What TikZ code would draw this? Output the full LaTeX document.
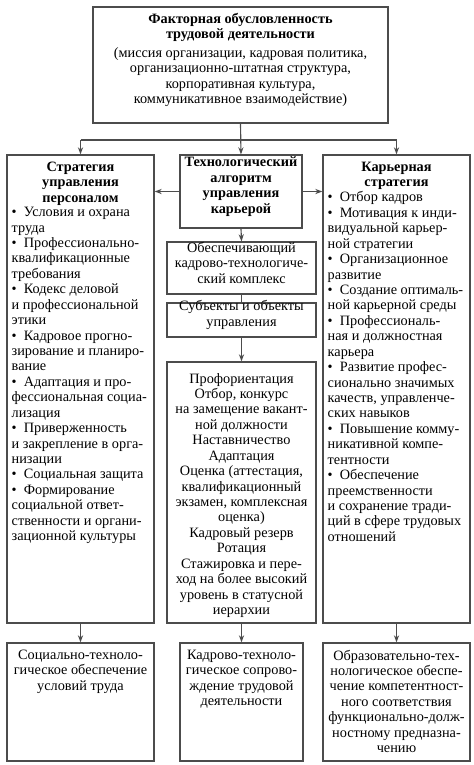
\documentclass[tikz,border=0pt]{standalone}
\usepackage{fontspec}
\setmainfont{Liberation Serif}
\usetikzlibrary{fit,arrows.meta}

\tikzset{
	box/.style={draw=black!70, line width=0.8pt, inner sep=0pt, align=center,
		font=\fontsize{10}{10.8}\selectfont},
	txt/.style={inner sep=0pt, font=\fontsize{10}{10.8}\selectfont},
	hd/.style={inner sep=0pt, align=center, font=\fontsize{10}{10.8}\selectfont\bfseries},
	arr/.style={-{Stealth[length=5pt,width=3.6pt]}, draw=black!70, line width=0.8pt},
	ln/.style={draw=black!70, line width=0.8pt},
}
\newcommand{\itm}{\textbullet\enspace}

\begin{document}
\begin{tikzpicture}[x=0.7pt,y=-0.7pt]
	\useasboundingbox (0,0) rectangle (474,765);

	% top
	\node[box, fit={(93,7) (388,123)}] (top) {\textbf{Факторная обусловленность}\\
		\textbf{трудовой деятельности}\\[2pt]
		(миссия организации, кадровая политика,\\
		организационно-штатная структура,\\
		корпоративная культура,\\
		коммуникативное взаимодействие)};
	\coordinate (bus) at (241,140);

	% three columns
	\node[box, fit={(7,155) (154,623)}] (lbox) {};
	\node[box, fit={(180,155) (302,228)}, font=\fontsize{10}{10.8}\selectfont\bfseries] (tech)
		{Технологический\\алгоритм\\управления\\карьерой};
	\node[box, fit={(323,155) (470,623)}] (rbox) {};

	\node[box, fit={(167,242) (316,294)}] (mk) {Обеспечивающий\\кадрово-технологиче-\\ский комплекс};
	\node[box, fit={(167,303) (316,337)}] (msub) {Субъекты и объекты\\управления};
	\node[box, fit={(167,362) (316,623)}] (mlist) {};

	% results
	\node[box, fit={(7,643) (154,761)}] (lres) {};
	\node[box, fit={(180,643) (303,761)}] (mres) {};
	\node[box, fit={(323,643) (470,761)}] (rres) {};

	% texts
	\node[hd, anchor=north, yshift=-5pt] (ltitle) at (lbox.north) {Стратегия\\управления\\персоналом};
	\node[txt, align=left, anchor=north west, xshift=3.5pt, yshift=-1pt] (llist) at (ltitle.south -| lbox.west)
		{\itm Условия и охрана\\труда\\
		\itm Профессионально-\\квалификационные\\требования\\
		\itm Кодекс деловой\\и профессиональной\\этики\\
		\itm Кадровое прогно-\\зирование и планиро-\\вание\\
		\itm Адаптация и про-\\фессиональная социа-\\лизация\\
		\itm Приверженность\\и закрепление в орга-\\низации\\
		\itm Социальная защита\\
		\itm Формирование\\социальной ответ-\\ственности и органи-\\зационной культуры};

	\node[hd, anchor=north, yshift=-5pt] (rtitle) at (rbox.north) {Карьерная\\стратегия};
	\node[txt, align=left, anchor=north west, xshift=3.5pt, yshift=-1pt] (rlist) at (rtitle.south -| rbox.west)
		{\itm Отбор кадров\\
		\itm Мотивация к инди-\\видуальной карьер-\\ной стратегии\\
		\itm Организационное\\развитие\\
		\itm Создание оптималь-\\ной карьерной среды\\
		\itm Профессиональ-\\ная и должностная\\карьера\\
		\itm Развитие профес-\\сионально значимых\\качеств, управленче-\\ских навыков\\
		\itm Повышение комму-\\никативной компе-\\тентности\\
		\itm Обеспечение\\преемственности\\и сохранение тради-\\ций в сфере трудовых\\отношений};

	\node[txt, align=center, anchor=north, yshift=-8pt] (mtxt) at (mlist.north)
		{Профориентация\\Отбор, конкурс\\на замещение вакант-\\ной должности\\Наставничество\\Адаптация\\
		Оценка (аттестация,\\квалификационный\\экзамен, комплексная\\оценка)\\Кадровый резерв\\Ротация\\
		Стажировка и пере-\\ход на более высокий\\уровень в статусной\\иерархии};

	\node[txt, align=center, anchor=north, yshift=-5pt] (lrtxt) at (lres.north)
		{Социально-техноло-\\гическое обеспечение\\условий труда};
	\node[txt, align=center, anchor=north, yshift=-5pt] (mrtxt) at (mres.north)
		{Кадрово-техноло-\\гическое сопрово-\\ждение трудовой\\деятельности};
	\node[txt, align=center, anchor=north, yshift=-5pt] (rrtxt) at (rres.north)
		{Образовательно-тех-\\нологическое обеспе-\\чение компетентност-\\ного соответствия\\функционально-долж-\\ностному предназна-\\чению};

	% connectors
	\draw[arr] (top.south) -- (tech.north);
	\draw[ln] (bus -| lbox.north) -- (bus -| rbox.north);
	\draw[arr] (bus -| lbox.north) -- (lbox.north);
	\draw[arr] (bus -| rbox.north) -- (rbox.north);
	\draw[arr] (tech.west) -- (tech.west -| lbox.east);
	\draw[arr] (tech.east) -- (tech.east -| rbox.west);
	\draw[arr] (tech.south) -- (mk.north);
	\draw[ln] (mk.south) -- (msub.north);
	\draw[arr] (msub.south) -- (mlist.north);
	\draw[arr] (lbox.south) -- (lres.north);
	\draw[arr] (mlist.south) -- (mres.north);
	\draw[arr] (rbox.south) -- (rres.north);
\end{tikzpicture}
\end{document}
